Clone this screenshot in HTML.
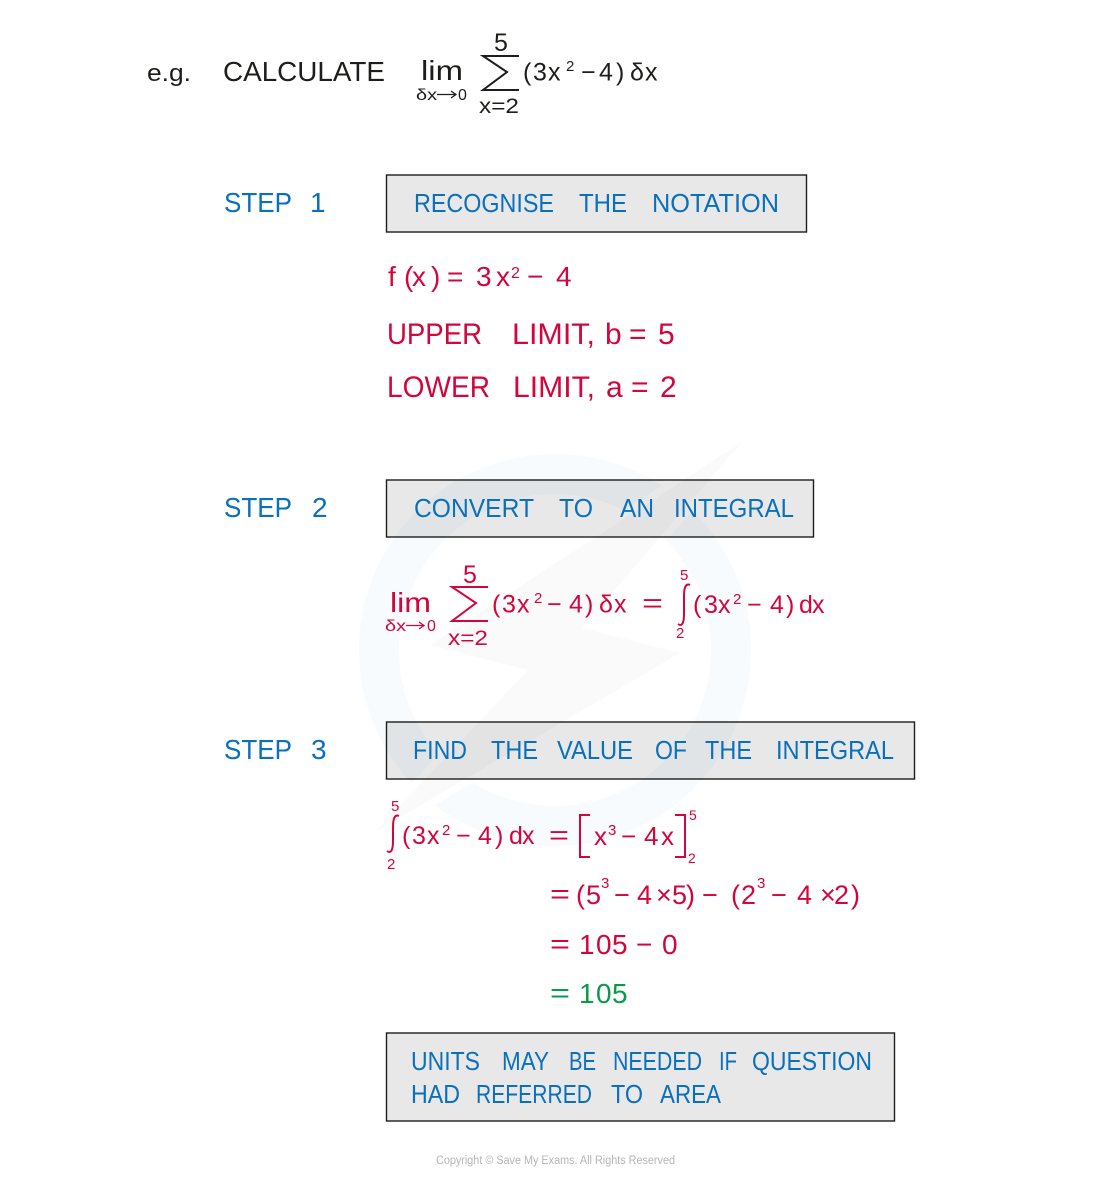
<!DOCTYPE html>
<html><head><meta charset="utf-8"><style>
html,body{margin:0;padding:0;background:#fff}
svg{display:block}
text{font-family:"Liberation Sans",sans-serif}
.k{fill:#1d1d1b}.b{fill:#0a70bc}.r{fill:#d2063c}.g{fill:#0a9a48}
</style></head><body>
<svg width="1100" height="1187" viewBox="0 0 1100 1187" xmlns="http://www.w3.org/2000/svg">
<defs>
<mask id="m" maskUnits="userSpaceOnUse" x="0" y="0" width="1100" height="1187">
<rect width="1100" height="1187" fill="#fff"/>
<path d="M742 442 L430 645 L528 670 L375 832 L680 653 L582 628 Z" fill="#000" stroke="#000" stroke-width="14"/>
</mask>
</defs>
<!-- boxes -->
<g fill="#e8e8e8" stroke="#1d1d1b" stroke-width="1.4">
<rect x="386.500" y="175" width="420" height="57"/>
<rect x="386.500" y="480" width="427" height="57"/>
<rect x="386.500" y="722" width="528" height="57"/>
<rect x="386.500" y="1033" width="508" height="88"/>
</g>
<!-- watermark -->
<g style="mix-blend-mode:multiply">
<circle cx="555" cy="650" r="176" fill="none" stroke="#f7fbfd" stroke-width="40" mask="url(#m)"/>
<path d="M742 442 L430 645 L528 670 L375 832 L680 653 L582 628 Z" fill="#fafafa"/>
</g>
<!-- header -->
<g class="k">
<text x="147" y="81" font-size="24" textLength="44" lengthAdjust="spacingAndGlyphs">e.g.</text>
<text x="223" y="81" font-size="28" textLength="162" lengthAdjust="spacingAndGlyphs">CALCULATE</text>
<text x="421" y="80" font-size="28" textLength="42" lengthAdjust="spacingAndGlyphs">lim</text>
<text x="416" y="100" font-size="16" textLength="21" lengthAdjust="spacingAndGlyphs">δx</text>
<text x="458" y="100" font-size="16">0</text>
<text x="494" y="51" font-size="25">5</text>
<text x="479" y="113" font-size="21" textLength="40" lengthAdjust="spacingAndGlyphs">x=2</text>
<text y="80.500" font-size="25" x="523 533 548 581 599 616 630 645">(3x−4)δx</text>
<text x="566" y="71" font-size="15">2</text>
</g>
<path d="M519 56 H483 L507 72 L483 90 H519" fill="none" stroke="#1d1d1b" stroke-width="2"/>
<path d="M437 94.500 H455 M451 91 L456 94.500 L451 98" fill="none" stroke="#1d1d1b" stroke-width="1.300"/>
<!-- steps -->
<g class="b">
<text x="224" y="212" font-size="28" textLength="68" lengthAdjust="spacingAndGlyphs">STEP</text>
<text x="310" y="212" font-size="28">1</text>
<text x="224" y="517" font-size="28" textLength="68" lengthAdjust="spacingAndGlyphs">STEP</text>
<text x="312" y="517" font-size="28">2</text>
<text x="224" y="759" font-size="28" textLength="68" lengthAdjust="spacingAndGlyphs">STEP</text>
<text x="311" y="759" font-size="28">3</text>
<g font-size="26">
<text y="212" x="414" textLength="140" lengthAdjust="spacingAndGlyphs">RECOGNISE</text>
<text y="212" x="579" textLength="48" lengthAdjust="spacingAndGlyphs">THE</text>
<text y="212" x="652" textLength="127" lengthAdjust="spacingAndGlyphs">NOTATION</text>
<text y="517" x="414" textLength="120" lengthAdjust="spacingAndGlyphs">CONVERT</text>
<text y="517" x="559" textLength="34" lengthAdjust="spacingAndGlyphs">TO</text>
<text y="517" x="620" textLength="34" lengthAdjust="spacingAndGlyphs">AN</text>
<text y="517" x="674" textLength="120" lengthAdjust="spacingAndGlyphs">INTEGRAL</text>
<text y="759" x="413" textLength="54" lengthAdjust="spacingAndGlyphs">FIND</text>
<text y="759" x="491" textLength="47" lengthAdjust="spacingAndGlyphs">THE</text>
<text y="759" x="557" textLength="76" lengthAdjust="spacingAndGlyphs">VALUE</text>
<text y="759" x="655" textLength="32" lengthAdjust="spacingAndGlyphs">OF</text>
<text y="759" x="705" textLength="47" lengthAdjust="spacingAndGlyphs">THE</text>
<text y="759" x="776" textLength="118" lengthAdjust="spacingAndGlyphs">INTEGRAL</text>
<text y="1070" x="411" textLength="69" lengthAdjust="spacingAndGlyphs">UNITS</text>
<text y="1070" x="502" textLength="47" lengthAdjust="spacingAndGlyphs">MAY</text>
<text y="1070" x="569" textLength="27" lengthAdjust="spacingAndGlyphs">BE</text>
<text y="1070" x="613" textLength="89" lengthAdjust="spacingAndGlyphs">NEEDED</text>
<text y="1070" x="719" textLength="18" lengthAdjust="spacingAndGlyphs">IF</text>
<text y="1070" x="752" textLength="120" lengthAdjust="spacingAndGlyphs">QUESTION</text>
<text y="1103" x="411" textLength="49" lengthAdjust="spacingAndGlyphs">HAD</text>
<text y="1103" x="476" textLength="116" lengthAdjust="spacingAndGlyphs">REFERRED</text>
<text y="1103" x="611" textLength="32" lengthAdjust="spacingAndGlyphs">TO</text>
<text y="1103" x="660" textLength="61" lengthAdjust="spacingAndGlyphs">AREA</text>
</g>
</g>
<!-- step 1 -->
<g class="r">
<text y="286" font-size="28" x="388 404 412 431 447 476 496 527 556">f(x)=3x−4</text>
<text x="511" y="278" font-size="16">2</text>
<text x="387" y="344" font-size="30" textLength="95" lengthAdjust="spacingAndGlyphs">UPPER</text>
<text x="512" y="344" font-size="30" textLength="83" lengthAdjust="spacingAndGlyphs">LIMIT,</text>
<text x="605" y="344" font-size="30">b</text>
<text x="629" y="344" font-size="30">=</text>
<text x="658" y="344" font-size="30">5</text>
<text x="387" y="397" font-size="30" textLength="103" lengthAdjust="spacingAndGlyphs">LOWER</text>
<text x="513" y="397" font-size="30" textLength="82" lengthAdjust="spacingAndGlyphs">LIMIT,</text>
<text x="606" y="397" font-size="30">a</text>
<text x="631" y="397" font-size="30">=</text>
<text x="660" y="397" font-size="30">2</text>
<!-- step 2 -->
<text x="390" y="612" font-size="28" textLength="41" lengthAdjust="spacingAndGlyphs">lim</text>
<text x="385" y="631" font-size="16" textLength="21" lengthAdjust="spacingAndGlyphs">δx</text>
<text x="427" y="631" font-size="16">0</text>
<text x="463" y="583" font-size="25">5</text>
<text x="448" y="645" font-size="21" textLength="40" lengthAdjust="spacingAndGlyphs">x=2</text>
<text y="612.500" font-size="25" x="492 502 517 547 569 585 599 614">(3x−4)δx</text>
<text x="534" y="603" font-size="15">2</text>
<text x="642" y="612" font-size="26" textLength="21" lengthAdjust="spacingAndGlyphs">=</text>
<text x="680" y="580" font-size="15">5</text>
<text x="676" y="638" font-size="15">2</text>
<text y="613" font-size="25" x="693 704 718 747 770 786 799 812">(3x−4)dx</text>
<text x="733" y="604" font-size="15">2</text>
<!-- step 3 -->
<text x="391" y="811" font-size="15">5</text>
<text x="387" y="869" font-size="15">2</text>
<text y="844" font-size="25" x="402 412 427 456 478 495 509 522">(3x−4)dx</text>
<text x="442" y="835" font-size="15">2</text>
<text x="549" y="844" font-size="26" textLength="20" lengthAdjust="spacingAndGlyphs">=</text>
<text y="845" font-size="26" x="594 621 644 661">x−4x</text>
<text x="608" y="835" font-size="15">3</text>
<text x="689" y="820" font-size="14">5</text>
<text x="688" y="863" font-size="14">2</text>
<text x="550" y="903" font-size="27" textLength="20" lengthAdjust="spacingAndGlyphs">=</text>
<text y="904" font-size="27" x="576 586 614 637 656 672 686 702 731 741 771 797 820 834 851">(5−4×5)−(2−4×2)</text>
<text x="601" y="888" font-size="15">3</text>
<text x="757" y="888" font-size="15">3</text>
<text x="550" y="953" font-size="27" textLength="20" lengthAdjust="spacingAndGlyphs">=</text>
<text y="954" font-size="28" x="579 596 612 636 662">105−0</text>
</g>
<g class="g">
<text x="550" y="1002" font-size="27" textLength="20" lengthAdjust="spacingAndGlyphs">=</text>
<text y="1003" font-size="28" x="579 596 612">105</text>
</g>
<g fill="none" stroke="#d2063c" stroke-width="2">
<path d="M488 587 H452 L476 603 L452 621 H488"/>
<path d="M406 625.500 H423 M419 622 L424 625.500 L419 629" stroke-width="1.300"/>
<path d="M678 624 C682 627 684 623 684 614 L684 596 C684 587 686 583 690 585"/>
<path d="M387 851 C391 854 393 850 393 841 L393 827 C393 818 395 814 399 816"/>
<path d="M590 815 H580 V857 H590 M675 815 H685 V857 H675"/>
</g>
<text x="436" y="1164" font-size="11.500" fill="#b5b5b5" textLength="239" lengthAdjust="spacingAndGlyphs">Copyright © Save My Exams. All Rights Reserved</text>
</svg>
</body></html>
